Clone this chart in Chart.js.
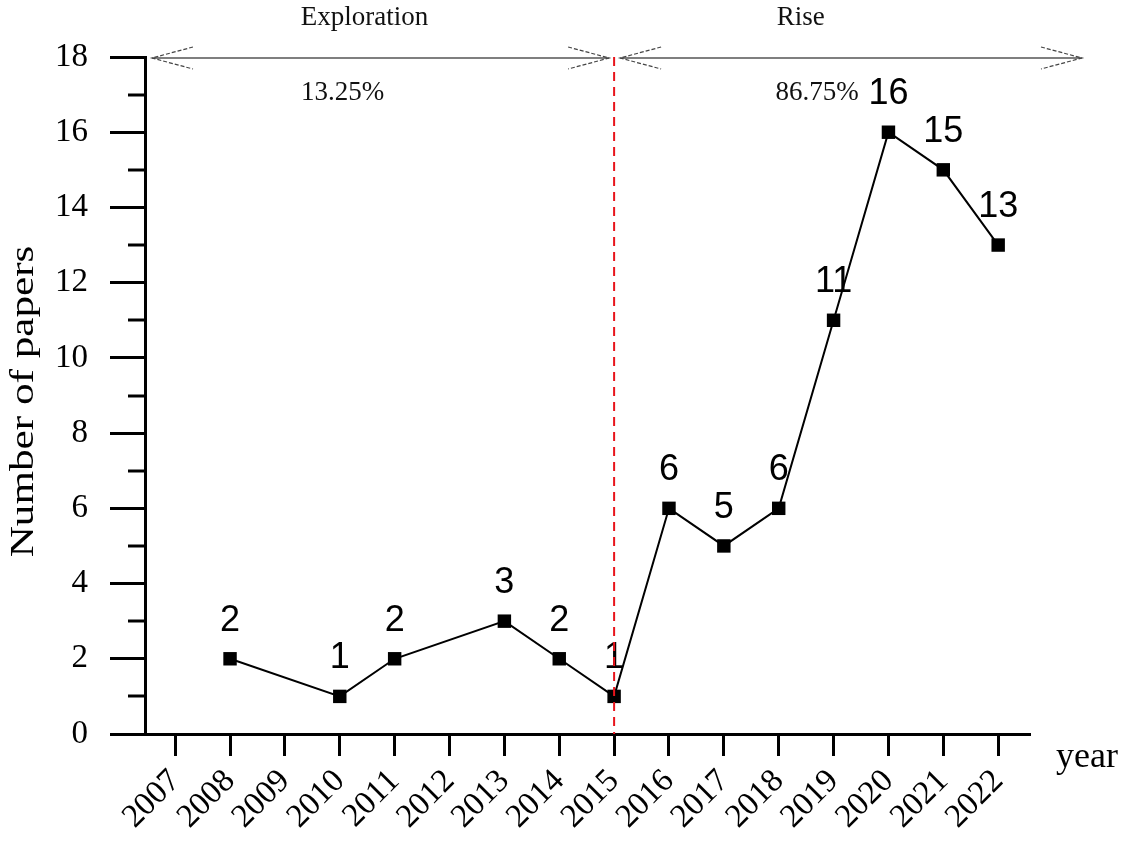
<!DOCTYPE html>
<html><head><meta charset="utf-8">
<script src="https://cdn.jsdelivr.net/npm/chart.js@4/dist/chart.umd.min.js"></script>
<style>html,body{margin:0;padding:0;background:#fff}#wrap{width:1124px;height:841px}</style>
</head><body><div id="wrap"><canvas id="c" width="1124" height="841"></canvas></div>
<script>
const years = [2007,2008,2009,2010,2011,2012,2013,2014,2015,2016,2017,2018,2019,2020,2021,2022];
const yearLabels = years.map(String);
const papers = [null,2,null,1,2,null,3,2,1,6,5,6,11,16,15,13];
const yTickValues = [0,2,4,6,8,10,12,14,16,18];
const phaseNames = ['Exploration','Rise'];
const phaseShares = ['13.25%','86.75%'];
const phaseBoundary = [2015];
const axisTitles = {x:'year', y:'Number of papers'};

const SERIF = 'Liberation Serif';
const SANS = 'Liberation Sans';

const extras = {
  id:'extras',
  afterDatasetsDraw(chart){
    const ctx = chart.ctx, xs = chart.scales.x, ys = chart.scales.y, ca = chart.chartArea;
    ctx.save();
    // minor y ticks
    ctx.strokeStyle = '#000'; ctx.lineWidth = 3;
    for (let v = ys.min + 1; v < ys.max; v += 2) {
      const py = Math.round(ys.getPixelForValue(v));
      ctx.beginPath(); ctx.moveTo(ca.left - 17, py); ctx.lineTo(ca.left, py); ctx.stroke();
    }
    // data labels
    const meta = chart.getDatasetMeta(0);
    ctx.fillStyle = '#000'; ctx.font = '36px "' + SANS + '"';
    ctx.textAlign = 'center'; ctx.textBaseline = 'middle';
    meta.data.forEach((pt, i) => {
      if (papers[i] === null) return;
      ctx.fillText(String(papers[i]), pt.x, pt.y - 38);
    });
    // red dashed boundary
    const bx = xs.getPixelForValue(phaseBoundary[0]);
    ctx.strokeStyle = '#e8141b'; ctx.lineWidth = 2; ctx.setLineDash([9,6]);
    ctx.beginPath(); ctx.moveTo(bx, ys.getPixelForValue(ys.max)); ctx.lineTo(bx, ys.getPixelForValue(0)); ctx.stroke();
    // phase arrows
    const ay = ys.getPixelForValue(ys.max) + 1;
    const segs = [[ca.left + 7, bx - 5], [bx + 6, ca.right + 52]];
    segs.forEach(([a, b]) => {
      ctx.setLineDash([]); ctx.strokeStyle = '#555'; ctx.lineWidth = 1.3;
      ctx.beginPath(); ctx.moveTo(a, ay); ctx.lineTo(b, ay); ctx.stroke();
      ctx.setLineDash([4,2]); ctx.strokeStyle = '#444'; ctx.lineWidth = 1.2;
      ctx.beginPath();
      ctx.moveTo(a + 41, ay - 11); ctx.lineTo(a, ay); ctx.lineTo(a + 41, ay + 11);
      ctx.moveTo(b - 41, ay - 11); ctx.lineTo(b, ay); ctx.lineTo(b - 41, ay + 11);
      ctx.stroke();
    });
    ctx.setLineDash([]);
    // phase texts
    ctx.fillStyle = '#111'; ctx.font = '27px "' + SERIF + '"'; ctx.textBaseline = 'alphabetic';
    const nameX = [2010.45, 2018.4], shareX = [2010.05, 2018.7];
    phaseNames.forEach((n, i) => {
      ctx.fillText(n, xs.getPixelForValue(nameX[i]), 25);
      ctx.fillText(phaseShares[i], xs.getPixelForValue(shareX[i]), ys.getPixelForValue(16.85));
    });
    // x title
    ctx.font = '36px "' + SERIF + '"'; ctx.textAlign = 'left'; ctx.fillStyle = '#000';
    ctx.fillText(axisTitles.x, ca.right + 26, ca.bottom + 33);
    // y title (stretched along its direction as in the original)
    ctx.save();
    ctx.translate(33, (ca.top + ca.bottom) / 2 + 6);
    ctx.rotate(-Math.PI / 2);
    ctx.scale(1.27, 1);
    ctx.font = '34px "' + SERIF + '"'; ctx.textAlign = 'center'; ctx.textBaseline = 'alphabetic';
    ctx.fillText(axisTitles.y, 0, 0);
    ctx.restore();
    ctx.restore();
  }
};

new Chart(document.getElementById('c'), {
  type: 'line',
  data: {
    datasets: [{
      data: years.map((y, i) => ({x: y, y: papers[i]})),
      spanGaps: true,
      borderColor: '#000', borderWidth: 2,
      pointStyle: 'rect', pointRadius: 9.5, pointHoverRadius: 9.5,
      pointBackgroundColor: '#000', pointBorderColor: '#000', pointBorderWidth: 0,
      tension: 0
    }]
  },
  options: {
    responsive: false, animation: false, devicePixelRatio: 1,
    layout: {padding: {top: 57, right: 94, left: 0, bottom: 0}},
    plugins: {legend: {display: false}, tooltip: {enabled: false}},
    scales: {
      x: {
        type: 'linear', min: 2006.45, max: 2022.58,
        afterFit: s => { s.height = 107; },
        ticks: {
          stepSize: 1, includeBounds: false, autoSkip: false,
          minRotation: 45, maxRotation: 45, padding: 6,
          color: '#000', font: {family: SERIF, size: 33},
          callback: v => { const k = years.indexOf(v); return k >= 0 ? yearLabels[k] : ''; }
        },
        grid: {drawOnChartArea: false, drawTicks: true, tickLength: 22, tickWidth: 3, tickColor: '#000'},
        border: {display: true, color: '#000', width: 3}
      },
      y: {
        min: 0, max: 18,
        afterFit: s => { s.width = 145; },
        ticks: {
          stepSize: 1, autoSkip: false, padding: 22,
          color: '#000', font: {family: SERIF, size: 33},
          callback: v => yTickValues.includes(v) ? String(v) : ''
        },
        grid: {
          drawOnChartArea: false, tickLength: 35, tickWidth: 3,
          tickColor: c => (c.tick && yTickValues.includes(c.tick.value)) ? '#000' : 'rgba(0,0,0,0)'
        },
        border: {display: true, color: '#000', width: 3},
        title: {display: false}
      }
    }
  },
  plugins: [extras]
});
</script></body></html>
